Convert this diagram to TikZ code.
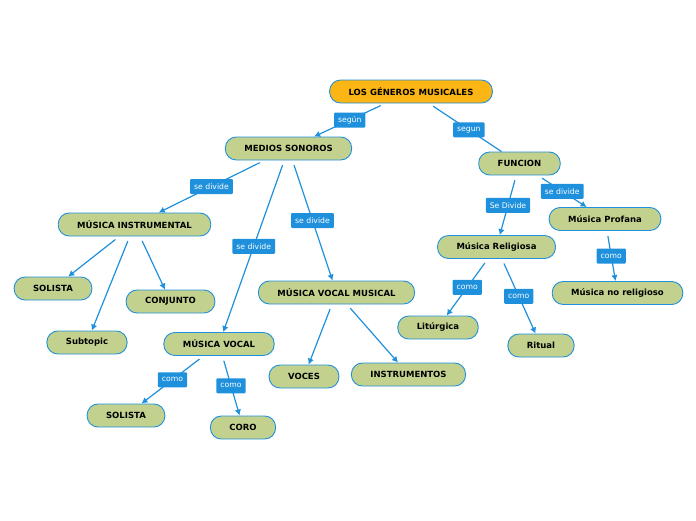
\documentclass[tikz,border=0pt]{standalone}
\usepackage{fontspec}
\setmainfont{DejaVu Sans}
\usepackage{xcolor}
\usetikzlibrary{arrows.meta}
\definecolor{topicfill}{HTML}{C2D28E}
\definecolor{rootfill}{HTML}{FBB515}
\definecolor{linkblue}{HTML}{1E90DC}
\begin{document}
\begin{tikzpicture}[
  x=1pt,y=-1pt,
  >={Latex[length=6pt,width=6.5pt]},
  topic/.style={draw=linkblue,line width=0.9pt,fill=topicfill,rounded corners=11pt,
    minimum height=23pt,inner xsep=19pt,inner ysep=0pt,font=\fontsize{8.5}{9}\selectfont\bfseries},
  main/.style={topic,fill=rootfill},
  link/.style={draw=linkblue,line width=1.2pt,shorten <=5pt},
  push/.style={link,->},
  lbl/.style={fill=linkblue,text=white,rounded corners=1pt,inner xsep=4pt,inner ysep=0pt,
    minimum height=15pt,font=\fontsize{7.7}{9}\selectfont}
]
  \useasboundingbox (0,0) rectangle (696,520);

  \node[main] (root) at (411,91.5) {LOS GÉNEROS MUSICALES};
  \node[topic] (medios) at (288.5,148.5) {MEDIOS SONOROS};
  \node[topic] (funcion) at (519.5,163.5) {FUNCION};

  % medios sonoros
  \node[topic] (instr) at (134.5,224.5) {MÚSICA INSTRUMENTAL};
  \node[topic] (solistaA) at (53,288.5) {SOLISTA};
  \node[topic] (conjunto) at (170.5,301.5) {CONJUNTO};
  \node[topic] (subtopic) at (87,342.5) {Subtopic};
  \node[topic] (vocal) at (219,344) {MÚSICA VOCAL};
  \node[topic] (solistaB) at (126,415.5) {SOLISTA};
  \node[topic] (coro) at (243,427.5) {CORO};
  \node[topic] (vocmus) at (336.5,292.5) {MÚSICA VOCAL MUSICAL};
  \node[topic] (voces) at (304,376.5) {VOCES};
  \node[topic] (instrumentos) at (408.5,374.5) {INSTRUMENTOS};

  % funcion
  \node[topic] (religiosa) at (496.5,247) {Música Religiosa};
  \node[topic] (profana) at (605,219) {Música Profana};
  \node[topic] (noreligioso) at (617.5,293) {Música no religioso};
  \node[topic] (liturgica) at (438,327.5) {Litúrgica};
  \node[topic] (ritual) at (541,345.5) {Ritual};

  \draw[push] (root) -- node[lbl] {según} (medios);
  \draw[link] (root) -- node[lbl,pos=0.55] {segun} (funcion);

  \draw[push] (medios) -- node[lbl] {se divide} (instr);
  \draw[push] (medios) -- node[lbl] {se divide} (vocal);
  \draw[push] (medios) -- node[lbl] {se divide} (vocmus);
  \foreach \t in {solistaA,subtopic,conjunto} \draw[push] (instr) -- (\t);
  \draw[push] (vocal) -- node[lbl] {como} (solistaB);
  \draw[push] (vocal) -- node[lbl] {como} (coro);
  \draw[push] (vocmus) -- (voces);
  \draw[push] (vocmus) -- (instrumentos);

  \draw[push] (funcion) -- node[lbl] {Se Divide} (religiosa);
  \draw[push] (funcion) -- node[lbl] {se divide} (profana);
  \draw[push] (religiosa) -- node[lbl] {como} (liturgica);
  \draw[push] (religiosa) -- node[lbl] {como} (ritual);
  \draw[push] (profana) -- node[lbl] {como} (noreligioso);
\end{tikzpicture}
\end{document}
